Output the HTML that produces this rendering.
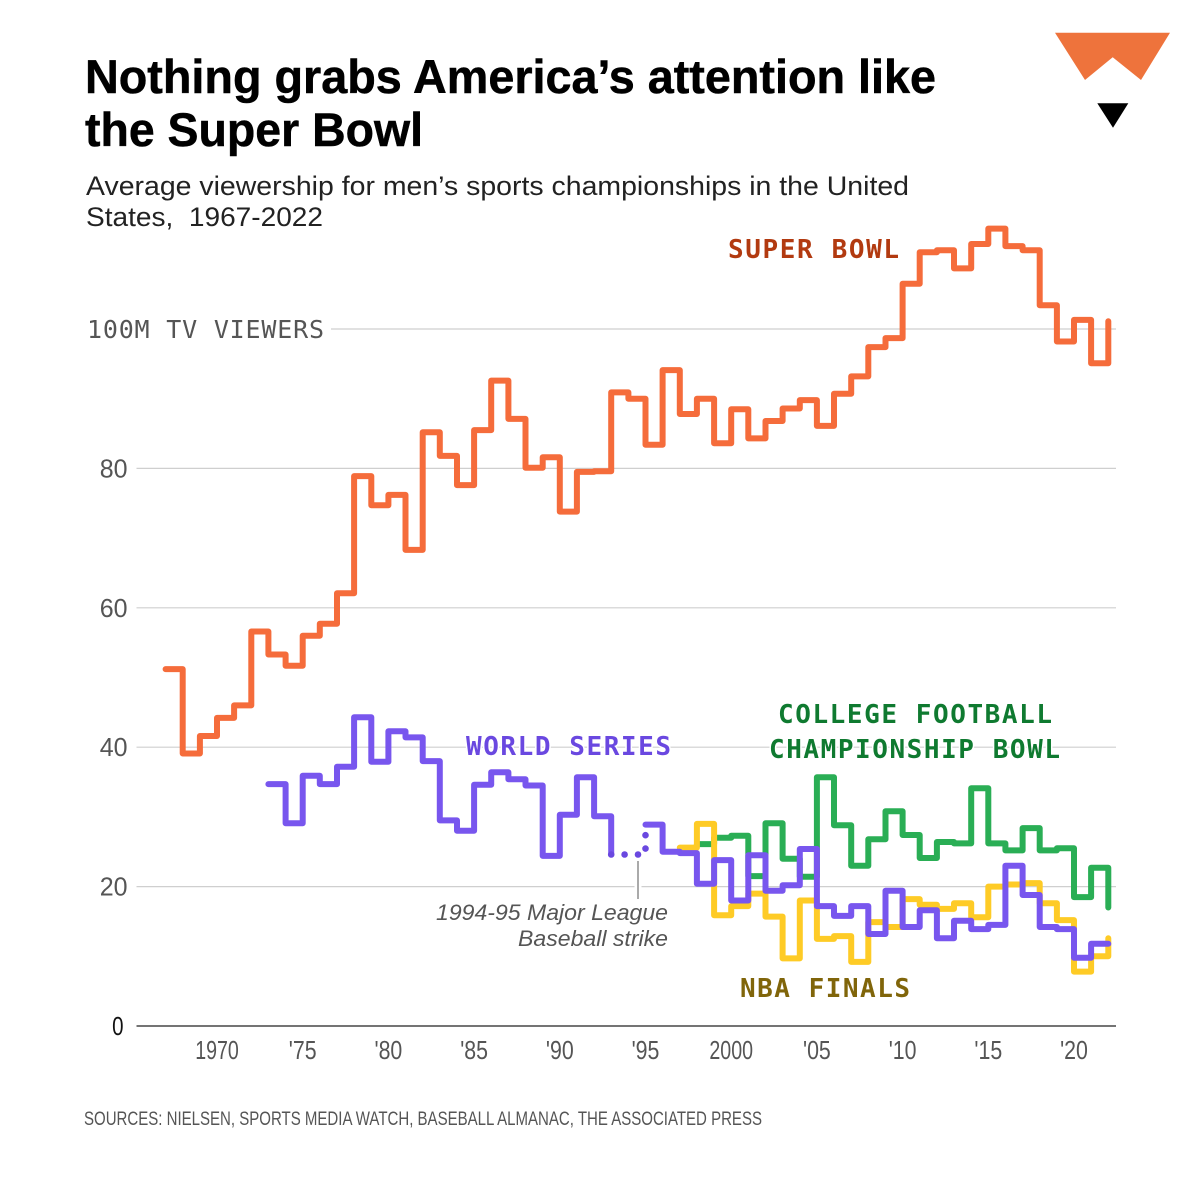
<!DOCTYPE html>
<html lang="en">
<head>
<meta charset="utf-8">
<title>Nothing grabs America's attention like the Super Bowl</title>
<style>
  html, body { margin: 0; padding: 0; background: #fff; }
  svg { display: block; }
  .sans { font-family: "Liberation Sans", sans-serif; }
  .narrow { font-family: "Liberation Sans", sans-serif; }
  .mono { font-family: "DejaVu Sans Mono", "Liberation Mono", monospace; }
  .label { font-weight: 700; font-size: 26px; paint-order: stroke; stroke: #fff; stroke-width: 3px; stroke-linejoin: round; }
</style>
</head>
<body>
<svg id="chart" width="1200" height="1200" viewBox="0 0 1200 1200" xmlns="http://www.w3.org/2000/svg">
  <rect width="1200" height="1200" fill="#fff"/>
  <text class="sans" x="85" y="93" font-size="47" font-weight="700" fill="#000" stroke="#000" stroke-width="0.5" textLength="851" lengthAdjust="spacingAndGlyphs">Nothing grabs America’s attention like</text>
  <text class="sans" x="85" y="146" font-size="47" font-weight="700" fill="#000" stroke="#000" stroke-width="0.5" textLength="338" lengthAdjust="spacingAndGlyphs">the Super Bowl</text>
  <text class="sans" x="86" y="195" font-size="27" fill="#222" textLength="823" lengthAdjust="spacingAndGlyphs">Average viewership for men’s sports championships in the United</text>
  <text class="sans" x="86" y="226" font-size="27" fill="#222" textLength="237" lengthAdjust="spacingAndGlyphs" xml:space="preserve">States,  1967-2022</text>

  <g>
    <polygon points="1055,32.7 1170,32.7 1141,80 1112.7,57.3 1085,80" fill="#EE733C"/>
    <polygon points="1097.3,103.3 1128.3,103.3 1113,127.7" fill="#000"/>
  </g>

  <g id="grid"></g>
  <g id="y-labels"></g>
  <g id="x-labels"></g>
  <g id="series"></g>

  <line x1="638" y1="868" x2="638" y2="899" stroke="#fff" stroke-width="7"/>
  <line x1="638" y1="861" x2="638" y2="899" stroke="#555" stroke-width="1"/>
  <text class="sans" x="668" y="920" font-size="22" font-style="italic" fill="#555" text-anchor="end" textLength="232" lengthAdjust="spacingAndGlyphs">1994-95 Major League</text>
  <text class="sans" x="668" y="946" font-size="22" font-style="italic" fill="#555" text-anchor="end" textLength="150" lengthAdjust="spacingAndGlyphs">Baseball strike</text>

  <text class="mono label" x="728" y="258" fill="#B23A10" textLength="171" lengthAdjust="spacing">SUPER BOWL</text>
  <text class="mono label" x="466" y="755" fill="#6A48E0" textLength="205" lengthAdjust="spacing">WORLD SERIES</text>
  <text class="mono label" x="778" y="723" fill="#0F7A30" textLength="274" lengthAdjust="spacing">COLLEGE FOOTBALL</text>
  <text class="mono label" x="769" y="758" fill="#0F7A30" textLength="291" lengthAdjust="spacing">CHAMPIONSHIP BOWL</text>
  <text class="mono label" x="740" y="997" fill="#80650A" textLength="170" lengthAdjust="spacing">NBA FINALS</text>

  <text class="narrow" x="84" y="1125" font-size="19" fill="#555" textLength="678" lengthAdjust="spacingAndGlyphs">SOURCES: NIELSEN, SPORTS MEDIA WATCH, BASEBALL ALMANAC, THE ASSOCIATED PRESS</text>
</svg>

<script>
const yTicks = [0, 20, 40, 60, 80, 100];
const yTickLabels = ["0", "20", "40", "60", "80", "100M TV VIEWERS"];
const xTicks = [1970, 1975, 1980, 1985, 1990, 1995, 2000, 2005, 2010, 2015, 2020];
const xTickLabels = ["1970", "'75", "'80", "'85", "'90", "'95", "2000", "'05", "'10", "'15", "'20"];

const superBowlStart = 1967;
const superBowl = [51.2, 39.1, 41.6, 44.2, 46.0, 56.6, 53.3, 51.7, 56.0, 57.7, 62.1, 78.9, 74.7, 76.2, 68.3, 85.2, 81.8, 77.6, 85.5, 92.6, 87.1, 80.1, 81.6, 73.8, 79.5, 79.6, 90.9, 90.0, 83.4, 94.1, 87.8, 90.0, 83.6, 88.5, 84.3, 86.8, 88.6, 89.8, 86.1, 90.7, 93.2, 97.4, 98.7, 106.5, 111.0, 111.3, 108.7, 112.2, 114.4, 111.9, 111.3, 103.4, 98.2, 101.3, 95.1, 101.1];

const collegeStart = 1998;
const collegeFootball = [26.1, 27.0, 27.3, 21.5, 29.1, 24.0, 21.4, 35.7, 28.8, 23.0, 26.8, 30.8, 27.4, 24.1, 26.4, 26.2, 34.1, 26.2, 25.2, 28.4, 25.2, 25.5, 18.5, 22.7, 17.0];

const nbaStart = 1997;
const nbaFinals = [25.6, 29.0, 15.9, 17.2, 19.0, 15.7, 9.7, 18.0, 12.5, 12.9, 9.2, 14.9, 14.2, 18.2, 17.4, 16.8, 17.6, 15.6, 20.0, 20.3, 20.5, 17.6, 15.2, 7.8, 10.0, 12.6];

const worldSeriesEarlyStart = 1973;
const worldSeriesEarly = [34.7, 29.1, 35.9, 34.7, 37.2, 44.3, 37.9, 42.3, 41.4, 38.0, 29.5, 28.0, 34.6, 36.4, 35.4, 34.5, 24.4, 30.3, 35.7, 30.1, 24.6];
const strikeYears = [1993, 1995];
const strikeValues = [24.6, 28.9];
const worldSeriesLateStart = 1995;
const worldSeriesLate = [28.9, 25.0, 24.8, 20.4, 23.8, 18.0, 24.5, 19.4, 20.2, 25.4, 17.2, 15.8, 17.2, 13.2, 19.4, 14.2, 16.6, 12.6, 15.1, 13.9, 14.5, 23.0, 18.8, 14.2, 13.9, 9.8, 11.8, 11.8];

const NS = "http://www.w3.org/2000/svg";
function xScale(year) { return 217 + (year - 1970) * 17.14; }
function yScale(value) { return 1026 - value * 6.97; }
function tickLabelWidth(text) {
  return text.replace(/'/g, "").length * 10.9 + (text.indexOf("'") >= 0 ? 6 : 0);
}

function stepPath(years, values) {
  let d = "";
  values.forEach(function (v, i) {
    const px = xScale(years[i]).toFixed(1);
    const py = yScale(v).toFixed(1);
    if (i === 0) {
      d += "M" + px + " " + py;
    } else {
      d += "H" + px + "V" + py;
    }
  });
  return d;
}
function yearsFrom(start, values) {
  return values.map(function (_, i) { return start + i; });
}
function drawLine(name, years, values, color, dash) {
  const p = document.createElementNS(NS, "path");
  p.setAttribute("d", stepPath(years, values));
  p.setAttribute("fill", "none");
  p.setAttribute("stroke", color);
  p.setAttribute("stroke-width", dash ? "6.6" : "6");
  p.setAttribute("stroke-linejoin", "round");
  p.setAttribute("stroke-linecap", "round");
  if (dash) p.setAttribute("stroke-dasharray", dash);
  
  
  document.getElementById("series").appendChild(p);
}

yTicks.forEach(function (t, i) {
  const line = document.createElementNS(NS, "line");
  const isBase = t === 0;
  const isTop = t === 100;
  line.setAttribute("x1", isTop ? 331 : 136.5);
  line.setAttribute("x2", 1116);
  line.setAttribute("y1", yScale(t));
  line.setAttribute("y2", yScale(t));
  line.setAttribute("stroke", isBase ? "#222" : "#cfcfcf");
  line.setAttribute("stroke-width", isBase ? "1.3" : "1.2");
  
  
  document.getElementById("grid").appendChild(line);

  const label = document.createElementNS(NS, "text");
  label.textContent = yTickLabels[i];
  if (isTop) {
    label.setAttribute("class", "mono");
    label.setAttribute("x", 87);
    label.setAttribute("font-size", "25");
    label.setAttribute("textLength", "237");
    label.setAttribute("lengthAdjust", "spacing");
    label.setAttribute("fill", "#555");
  } else {
    const w = tickLabelWidth(yTickLabels[i]) + (isBase ? 0.5 : 6);
    label.setAttribute("class", "narrow");
    label.setAttribute("x", (isBase ? 123.5 : 127.5) - w);
    label.setAttribute("font-size", "26");
    label.setAttribute("textLength", w);
    label.setAttribute("lengthAdjust", "spacingAndGlyphs");
    label.setAttribute("fill", isBase ? "#111" : "#555");
  }
  label.setAttribute("y", yScale(t) + 9);
  
  
  document.getElementById("y-labels").appendChild(label);
});

xTicks.forEach(function (t, i) {
  const label = document.createElementNS(NS, "text");
  const w = tickLabelWidth(xTickLabels[i]);
  label.textContent = xTickLabels[i];
  label.setAttribute("class", "narrow");
  label.setAttribute("x", xScale(t) - w / 2);
  label.setAttribute("y", 1059);
  label.setAttribute("font-size", "26");
  label.setAttribute("textLength", w);
  label.setAttribute("lengthAdjust", "spacingAndGlyphs");
  label.setAttribute("fill", "#555");
  
  
  document.getElementById("x-labels").appendChild(label);
});

drawLine("super-bowl-line", yearsFrom(superBowlStart, superBowl), superBowl, "#F56C3B");
drawLine("college-football-line", yearsFrom(collegeStart, collegeFootball), collegeFootball, "#2AAE55");
drawLine("nba-finals-line", yearsFrom(nbaStart, nbaFinals), nbaFinals, "#FECB26");
drawLine("world-series-line-early", yearsFrom(worldSeriesEarlyStart, worldSeriesEarly), worldSeriesEarly, "#7856EE");
drawLine("world-series-strike-dots", strikeYears, strikeValues, "#6A48E0", "0 13.4");
drawLine("world-series-line-late", yearsFrom(worldSeriesLateStart, worldSeriesLate), worldSeriesLate, "#7856EE");
</script>
</body>
</html>
